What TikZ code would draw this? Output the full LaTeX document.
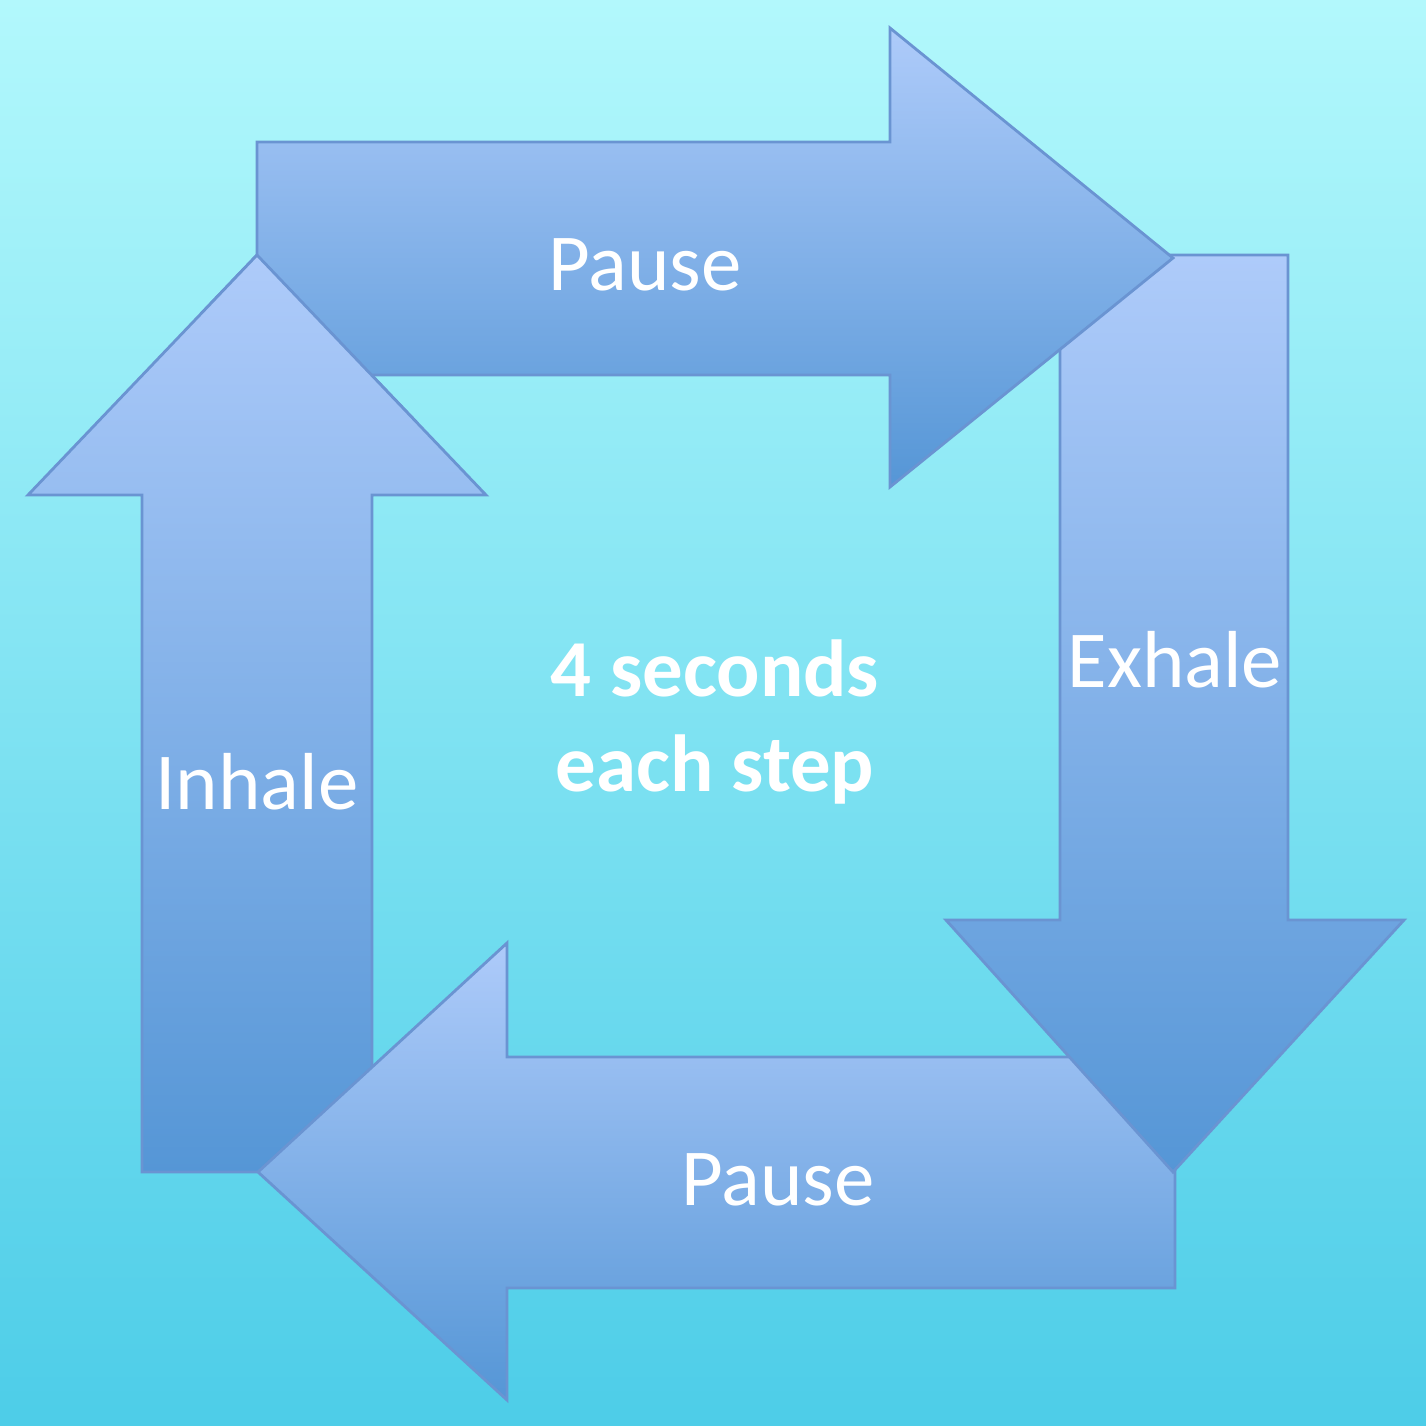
\documentclass[tikz,border=0pt]{standalone}
\usepackage{fontspec}
\setmainfont{Carlito}
\begin{document}
\begin{tikzpicture}[x=0.01cm,y=-0.01cm,
  arr/.style={draw=arrLine,line width=0.8pt,top color=arrTop,bottom color=arrBot},
  lbl/.style={text=white,font=\fontsize{23}{26}\selectfont},
  clbl/.style={text=white,font=\fontsize{23}{27}\selectfont\bfseries,align=center}]
\definecolor{arrTop}{HTML}{AECBFA}
\definecolor{arrBot}{HTML}{5596D6}
\definecolor{arrLine}{HTML}{6A94D2}
\definecolor{bgTop}{HTML}{B2F8FC}
\definecolor{bgBot}{HTML}{4DCDE8}
\shade[top color=bgTop,bottom color=bgBot] (0,0) rectangle (1426,1426);
\useasboundingbox (0,0) rectangle (1426,1426);
\tikzset{leftarrow/.pic={\path[arr] (142,1172) -- (142,495) -- (28,495) -- (257,255) -- (486,495) -- (372,495) -- (372,1172) -- cycle;}}
% left arrow
\pic {leftarrow};
% bottom arrow
\path[arr] (1175,1057) -- (1175,1288) -- (507,1288) -- (507,1400) -- (258,1172) -- (507,943) -- (507,1057) -- cycle;
% right arrow
\path[arr] (1060,255) -- (1288,255) -- (1288,920) -- (1404,920) -- (1173,1172) -- (946,920) -- (1060,920) -- cycle;
% top arrow
\path[arr] (257,142) -- (890,142) -- (890,28) -- (1173,258) -- (890,487) -- (890,375) -- (257,375) -- cycle;
% left arrow head over top arrow
\begin{scope}
\clip (200,130) rectangle (420,420);
\pic {leftarrow};
\end{scope}
\node[lbl] (p1) at (645,265) {Pause};
\node[lbl] (ex) at (1175,660) {Exhale};
\node[lbl] (p2) at (778,1180) {Pause};
\node[lbl] (in) at (257,782) {Inhale};
\node[clbl] (c) at (715,722) {4 seconds\\each step};
\end{tikzpicture}
\end{document}
